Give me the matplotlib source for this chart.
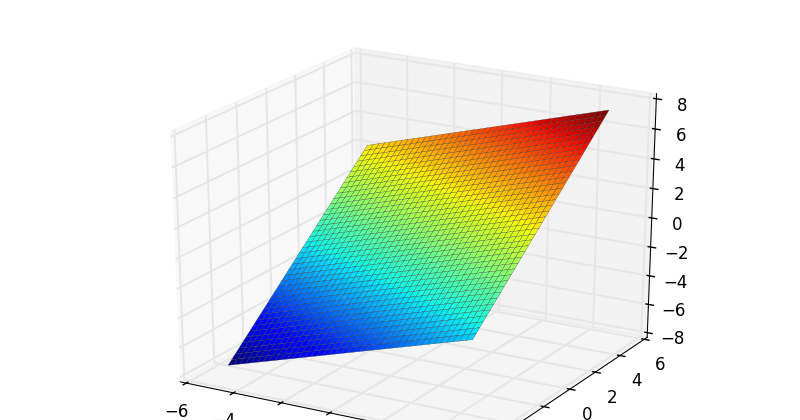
import numpy as np
import matplotlib
matplotlib.use('Agg')
import matplotlib.pyplot as plt
from mpl_toolkits.mplot3d import Axes3D

x_edges = [-5, 5]
y_edges = [-5, 5]
# plane height at the four corners
z_corners = [[-7.5, 2.5], [-2.5, 7.5]]
x_ticks = [-6, -4, -2, 0, 2, 4, 6]
y_ticks = [-6, -4, -2, 0, 2, 4, 6]
z_ticks = [-8, -6, -4, -2, 0, 2, 4, 6, 8]

plt.style.use('classic')
fig = plt.figure(figsize=(8, 4.2), dpi=100)
ax = fig.add_axes([86 / 800, -75 / 420, 646 / 800, 500 / 420], projection='3d')
ax.apply_aspect = lambda position=None: None
ax.set_box_aspect((1, 1, 1), zoom=1 / 1.1003)
ax.view_init(elev=24, azim=-60.4)

# mesh over the plane
u = np.linspace(0, 1, 41)
U, V = np.meshgrid(u, u)
zc = np.array(z_corners)
X = x_edges[0] + (x_edges[1] - x_edges[0]) * U
Y = y_edges[0] + (y_edges[1] - y_edges[0]) * V
Z = (zc[0, 0] * (1 - U) * (1 - V) + zc[1, 0] * U * (1 - V)
     + zc[0, 1] * (1 - U) * V + zc[1, 1] * U * V)
ax.plot_surface(X, Y, Z, rstride=1, cstride=1, cmap='jet', linewidth=0.2,
                edgecolor='#333333', antialiased=True)

ax.set_xlim(-6, 6, view_margin=1 / 48)
ax.set_ylim(-6, 6, view_margin=1 / 48)
ax.set_zlim(-8, 8, view_margin=1 / 48)
ax.set_xticks(x_ticks)
ax.set_yticks(y_ticks)
ax.set_zticks(z_ticks)
ax.tick_params(labelsize=12)
for axis in (ax.xaxis, ax.yaxis, ax.zaxis):
    axis._axinfo['grid']['linewidth'] = 1.4

fig.savefig('out.png', dpi=100)
